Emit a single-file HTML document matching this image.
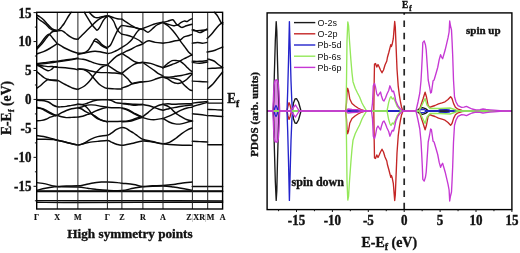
<!DOCTYPE html><html><head><meta charset="utf-8"><style>html,body{margin:0;padding:0;background:#fff;}svg{display:block;}.b{stroke:#111;stroke-width:0.35px;paint-order:stroke;}</style></head><body>
<svg width="520" height="253" viewBox="0 0 520 253">
<rect width="520" height="253" fill="#fff"/>
<g fill="none" stroke="#0a0a0a" stroke-width="1.45" stroke-linejoin="round" stroke-linecap="round">
<path d="M36.70,15.20 C37.27,15.50 38.98,16.23 40.12,17.00 C41.26,17.77 42.20,18.50 43.53,19.80 C44.87,21.10 46.66,23.30 48.12,24.80 C49.59,26.30 50.79,27.85 52.32,28.80 C53.85,29.75 56.47,30.22 57.30,30.50"/>
<path d="M36.70,17.20 C37.11,17.58 38.25,18.78 39.14,19.50 C40.04,20.22 40.93,20.67 42.07,21.50 C43.21,22.33 44.67,23.33 45.97,24.50 C47.28,25.67 48.58,27.50 49.88,28.50 C51.18,29.50 52.55,30.08 53.79,30.50 C55.02,30.92 56.71,30.92 57.30,31.00"/>
<path d="M57.30,30.50 C57.70,30.25 58.94,29.65 59.69,29.00 C60.43,28.35 61.03,27.52 61.78,26.60 C62.52,25.68 63.37,24.68 64.17,23.50 C64.96,22.32 65.76,20.83 66.56,19.50 C67.35,18.17 68.16,16.70 68.94,15.50 C69.72,14.30 70.85,12.83 71.23,12.30"/>
<path d="M57.30,31.00 C58.03,30.93 60.34,30.27 61.68,30.60 C63.02,30.93 63.97,31.98 65.36,33.00 C66.75,34.02 68.58,35.73 70.04,36.70 C71.50,37.67 72.81,38.37 74.12,38.80 C75.43,39.23 77.27,39.22 77.90,39.30"/>
<path d="M36.70,47.70 C37.32,47.03 39.01,45.42 40.41,43.70 C41.81,41.98 43.68,38.98 45.10,37.40 C46.51,35.82 47.62,34.07 48.90,34.20 C50.19,34.33 51.41,36.62 52.81,38.20 C54.21,39.78 56.55,42.78 57.30,43.70"/>
<path d="M36.70,49.20 C37.58,48.28 40.33,45.62 41.97,43.70 C43.62,41.78 45.32,39.23 46.56,37.70 C47.80,36.17 48.35,35.53 49.39,34.50 C50.43,33.47 51.49,32.08 52.81,31.50 C54.13,30.92 56.55,31.08 57.30,31.00"/>
<path d="M36.70,54.00 C37.84,53.60 41.37,52.52 43.53,51.60 C45.70,50.68 47.39,49.82 49.68,48.50 C51.98,47.18 56.03,44.50 57.30,43.70"/>
<path d="M57.30,43.70 C58.36,44.33 61.55,46.37 63.67,47.50 C65.79,48.63 67.67,49.53 70.04,50.50 C72.41,51.47 76.59,52.83 77.90,53.30"/>
<path d="M84.41,12.30 C84.95,13.23 86.46,15.92 87.67,17.90 C88.87,19.88 90.29,22.35 91.63,24.20 C92.97,26.05 94.77,28.00 95.70,29.00 C96.63,30.00 96.57,30.47 97.23,30.20 C97.89,29.93 98.72,28.92 99.67,27.40 C100.62,25.88 101.99,22.68 102.92,21.10 C103.86,19.52 104.50,18.65 105.26,17.90 C106.03,17.15 107.12,16.82 107.49,16.60"/>
<path d="M89.19,12.30 C89.60,12.73 90.68,14.05 91.63,14.90 C92.58,15.75 93.75,16.95 94.89,17.40 C96.02,17.85 97.26,17.73 98.45,17.60 C99.64,17.47 100.50,16.90 102.01,16.60 C103.52,16.30 106.58,15.93 107.49,15.80"/>
<path d="M77.90,39.20 C78.58,38.55 80.49,36.73 81.97,35.30 C83.44,33.87 85.14,32.18 86.75,30.60 C88.36,29.02 90.01,27.38 91.63,25.80 C93.26,24.22 94.90,22.42 96.52,21.10 C98.13,19.78 99.84,18.70 101.30,17.90 C102.75,17.10 104.23,16.62 105.26,16.30 C106.30,15.98 107.12,16.05 107.49,16.00"/>
<path d="M77.90,53.30 C78.87,53.25 81.95,53.55 83.70,53.00 C85.44,52.45 86.95,51.50 88.38,50.00 C89.80,48.50 91.09,45.80 92.24,44.00 C93.40,42.20 94.26,39.75 95.29,39.20 C96.33,38.65 97.33,39.80 98.45,40.70 C99.57,41.60 100.84,43.58 102.01,44.60 C103.18,45.62 104.55,46.30 105.47,46.80 C106.38,47.30 107.16,47.47 107.49,47.60"/>
<path d="M93.87,41.00 C94.38,41.17 95.82,41.37 96.92,42.00 C98.02,42.63 99.30,43.97 100.48,44.80 C101.67,45.63 102.87,46.38 104.04,47.00 C105.21,47.62 106.92,48.25 107.49,48.50"/>
<path d="M107.49,15.80 C107.98,16.03 109.39,16.25 110.43,17.20 C111.48,18.15 112.77,19.77 113.75,21.50 C114.73,23.23 115.47,25.92 116.31,27.60 C117.15,29.28 117.84,30.50 118.77,31.60 C119.70,32.70 121.38,33.77 121.90,34.20"/>
<path d="M107.49,15.80 C108.32,16.03 110.81,16.72 112.42,17.20 C114.03,17.68 115.58,18.37 117.16,18.70 C118.74,19.03 121.11,19.12 121.90,19.20"/>
<path d="M107.49,47.60 C108.00,47.17 109.47,46.58 110.53,45.00 C111.59,43.42 112.74,40.42 113.84,38.10 C114.95,35.78 116.15,32.95 117.16,31.10 C118.17,29.25 119.12,27.93 119.91,27.00 C120.70,26.07 121.57,25.75 121.90,25.50"/>
<path d="M77.90,54.50 C79.21,54.22 82.90,53.35 85.73,52.80 C88.56,52.25 92.18,51.30 94.89,51.20 C97.60,51.10 99.67,51.83 102.01,52.20 C104.35,52.57 106.66,53.60 108.92,53.40 C111.17,53.20 113.39,52.02 115.55,51.00 C117.71,49.98 119.95,48.47 121.90,47.30 C123.85,46.13 125.55,45.35 127.25,44.00 C128.95,42.65 130.48,41.18 132.09,39.20 C133.70,37.22 135.57,33.77 136.93,32.10 C138.28,30.43 139.26,29.72 140.22,29.20 C141.18,28.68 142.28,29.03 142.69,29.00"/>
<path d="M121.90,19.20 C122.78,19.77 125.45,21.50 127.15,22.60 C128.85,23.70 130.46,24.87 132.09,25.80 C133.72,26.73 135.16,27.57 136.93,28.20 C138.70,28.83 141.73,29.37 142.69,29.60"/>
<path d="M121.90,25.50 C122.78,25.62 125.19,25.88 127.15,26.20 C129.11,26.52 131.46,26.93 133.64,27.40 C135.81,27.87 138.71,28.68 140.22,29.00 C141.73,29.32 142.28,29.25 142.69,29.30"/>
<path d="M121.90,34.20 C122.78,34.38 125.45,34.85 127.15,35.30 C128.85,35.75 130.19,36.12 132.09,36.90 C134.00,37.68 136.81,38.95 138.58,40.00 C140.34,41.05 142.01,42.67 142.69,43.20"/>
<path d="M107.49,65.10 C108.05,64.48 109.28,62.88 110.81,61.40 C112.34,59.92 114.84,57.52 116.69,56.20 C118.54,54.88 120.28,54.33 121.90,53.50 C123.52,52.67 124.82,51.95 126.43,51.20 C128.04,50.45 129.86,49.83 131.58,49.00 C133.29,48.17 134.87,47.03 136.72,46.20 C138.58,45.37 141.70,44.37 142.69,44.00"/>
<path d="M142.69,29.00 C143.26,29.38 145.15,30.78 146.10,31.30 C147.06,31.82 147.42,32.48 148.43,32.10 C149.45,31.72 150.81,30.18 152.22,29.00 C153.63,27.82 155.09,26.12 156.88,25.00 C158.68,23.88 161.98,22.75 163.00,22.30"/>
<path d="M142.69,28.50 C143.52,28.18 145.81,27.32 147.66,26.60 C149.50,25.88 151.72,24.87 153.78,24.20 C155.83,23.53 158.45,22.92 159.99,22.60 C161.53,22.28 162.50,22.35 163.00,22.30"/>
<path d="M142.69,44.00 C143.26,43.60 145.02,42.13 146.10,41.60 C147.19,41.07 147.67,40.67 149.21,40.80 C150.75,40.93 153.03,42.00 155.33,42.40 C157.63,42.80 161.72,43.07 163.00,43.20"/>
<path d="M163.00,22.30 C163.82,22.10 166.28,21.52 167.90,21.10 C169.52,20.68 171.49,19.55 172.70,19.80 C173.91,20.05 174.33,21.73 175.15,22.60 C175.96,23.47 176.66,25.00 177.60,25.00 C178.53,25.00 179.69,23.25 180.76,22.60 C181.83,21.95 182.96,21.28 184.03,21.10 C185.10,20.92 186.26,21.72 187.19,21.50 C188.13,21.28 188.79,20.27 189.64,19.80 C190.49,19.33 191.86,18.88 192.30,18.70"/>
<path d="M163.00,22.50 C163.82,22.78 166.15,23.65 167.90,24.20 C169.65,24.75 171.90,25.67 173.51,25.80 C175.13,25.93 176.25,24.73 177.60,25.00 C178.94,25.27 180.12,27.27 181.58,27.40 C183.04,27.53 184.59,26.33 186.38,25.80 C188.16,25.27 191.31,24.47 192.30,24.20"/>
<path d="M163.00,22.60 C163.82,23.13 166.28,24.47 167.90,25.80 C169.52,27.13 171.08,28.75 172.70,30.60 C174.31,32.45 176.25,35.07 177.60,36.90 C178.94,38.73 179.74,40.17 180.76,41.60 C181.78,43.03 182.74,44.18 183.72,45.50 C184.71,46.82 185.80,48.32 186.68,49.50 C187.57,50.68 188.10,51.68 189.03,52.60 C189.97,53.52 191.75,54.60 192.30,55.00"/>
<path d="M163.00,43.20 C163.99,43.07 166.86,42.80 168.92,42.40 C170.98,42.00 173.46,41.20 175.35,40.80 C177.24,40.40 178.81,40.65 180.25,40.00 C181.70,39.35 182.45,37.68 184.03,36.90 C185.61,36.12 188.37,35.70 189.75,35.30 C191.12,34.90 191.87,34.63 192.30,34.50"/>
<path d="M192.30,29.60 C192.89,29.80 194.59,30.30 195.83,30.80 C197.08,31.30 198.53,32.52 199.76,32.60 C200.98,32.68 201.96,31.90 203.19,31.30 C204.41,30.70 206.46,29.38 207.11,29.00"/>
<path d="M192.30,30.60 C193.15,30.60 194.93,30.73 197.40,30.60 C199.87,30.47 205.49,29.93 207.11,29.80"/>
<path d="M192.30,43.20 C193.15,43.07 195.77,42.40 197.40,42.40 C199.04,42.40 200.49,43.20 202.11,43.20 C203.73,43.20 206.28,42.53 207.11,42.40"/>
<path d="M207.11,38.50 C207.91,37.70 210.25,35.55 211.88,33.70 C213.52,31.85 215.38,29.12 216.92,27.40 C218.46,25.68 220.12,24.20 221.10,23.40 C222.08,22.60 222.52,22.73 222.80,22.60"/>
<path d="M214.35,12.30 C214.92,12.97 216.65,14.58 217.78,16.30 C218.90,18.02 220.26,21.32 221.10,22.60 C221.94,23.88 222.52,23.77 222.80,24.00"/>
<path d="M207.11,52.00 C208.44,51.70 212.48,51.03 215.10,50.20 C217.71,49.37 221.52,47.53 222.80,47.00"/>
<path d="M36.70,63.70 C37.92,63.55 41.83,63.10 44.02,62.80 C46.22,62.50 47.65,62.18 49.88,61.90 C52.11,61.62 54.84,61.43 57.40,61.10 C59.96,60.77 62.64,60.27 65.26,59.90 C67.88,59.53 71.02,59.23 73.12,58.90 C75.23,58.57 77.10,58.07 77.90,57.90"/>
<path d="M36.70,64.60 C38.08,64.43 41.55,64.07 45.00,63.60 C48.45,63.13 53.29,62.40 57.40,61.80 C61.51,61.20 66.22,60.53 69.64,60.00 C73.06,59.47 76.52,58.83 77.90,58.60"/>
<path d="M36.70,64.80 C37.27,65.08 38.75,65.75 40.12,66.50 C41.48,67.25 43.57,68.58 44.90,69.30 C46.24,70.02 47.05,70.77 48.12,70.80 C49.20,70.83 50.32,70.17 51.34,69.50 C52.37,68.83 53.26,67.25 54.27,66.80 C55.28,66.35 56.88,66.80 57.40,66.80"/>
<path d="M36.70,65.40 C37.59,65.47 40.23,65.60 42.07,65.80 C43.91,66.00 45.81,66.47 47.73,66.60 C49.65,66.73 51.98,66.47 53.59,66.60 C55.20,66.73 55.45,67.20 57.40,67.40 C59.34,67.60 62.64,67.57 65.26,67.80 C67.88,68.03 71.02,68.47 73.12,68.80 C75.23,69.13 77.10,69.63 77.90,69.80"/>
<path d="M36.70,71.60 C37.32,72.12 39.09,73.63 40.41,74.70 C41.73,75.77 43.32,77.20 44.61,78.00 C45.89,78.80 46.92,79.17 48.12,79.50 C49.33,79.83 50.29,79.87 51.83,80.00 C53.38,80.13 55.16,79.55 57.40,80.30 C59.64,81.05 62.64,83.17 65.26,84.50 C67.88,85.83 71.02,87.48 73.12,88.30 C75.23,89.12 77.10,89.22 77.90,89.40"/>
<path d="M36.70,88.20 C37.32,87.80 39.27,86.72 40.41,85.80 C41.55,84.88 42.51,83.62 43.53,82.70 C44.56,81.78 45.80,80.83 46.56,80.30 C47.33,79.77 47.24,79.48 48.12,79.50 C49.00,79.52 50.29,80.18 51.83,80.40 C53.38,80.62 56.47,80.73 57.40,80.80"/>
<path d="M77.90,58.80 C78.76,58.88 81.34,58.98 83.09,59.30 C84.83,59.62 86.61,60.12 88.38,60.70 C90.14,61.28 91.73,62.17 93.67,62.80 C95.60,63.43 97.67,64.12 99.97,64.50 C102.28,64.88 106.24,65.00 107.49,65.10"/>
<path d="M77.90,68.90 C78.87,68.97 81.88,69.03 83.70,69.30 C85.51,69.57 86.92,70.05 88.78,70.50 C90.65,70.95 92.85,71.65 94.89,72.00 C96.92,72.35 98.89,72.50 100.99,72.60 C103.09,72.70 106.41,72.60 107.49,72.60"/>
<path d="M77.90,68.90 C78.87,69.02 81.88,69.00 83.70,69.60 C85.51,70.20 86.99,70.93 88.78,72.50 C90.58,74.07 92.68,77.00 94.48,79.00 C96.28,81.00 97.87,83.07 99.57,84.50 C101.26,85.93 103.33,86.95 104.65,87.60 C105.97,88.25 107.02,88.27 107.49,88.40"/>
<path d="M77.90,89.40 C78.87,88.92 82.05,87.57 83.70,86.50 C85.34,85.43 86.58,84.17 87.77,83.00 C88.95,81.83 89.70,80.92 90.82,79.50 C91.94,78.08 93.02,76.25 94.48,74.50 C95.94,72.75 98.14,70.33 99.57,69.00 C100.99,67.67 101.70,67.15 103.03,66.50 C104.35,65.85 106.75,65.33 107.49,65.10"/>
<path d="M107.49,65.10 C108.38,65.68 110.97,67.42 112.80,68.60 C114.63,69.78 116.97,71.38 118.49,72.20 C120.00,73.02 121.33,73.28 121.90,73.50"/>
<path d="M107.49,72.60 C108.68,72.67 112.20,72.77 114.60,73.00 C117.00,73.23 120.68,73.83 121.90,74.00"/>
<path d="M107.49,88.40 C108.68,88.48 112.20,88.82 114.60,88.90 C117.00,88.98 120.68,88.90 121.90,88.90"/>
<path d="M121.90,53.30 C122.88,53.95 125.74,55.85 127.77,57.20 C129.79,58.55 132.28,60.47 134.05,61.40 C135.81,62.33 136.93,62.63 138.37,62.80 C139.81,62.97 141.97,62.47 142.69,62.40"/>
<path d="M121.90,73.20 C122.88,72.43 125.74,70.07 127.77,68.60 C129.79,67.13 132.28,65.37 134.05,64.40 C135.81,63.43 136.93,63.13 138.37,62.80 C139.81,62.47 141.97,62.47 142.69,62.40"/>
<path d="M121.90,73.20 C122.88,74.13 126.09,77.08 127.77,78.80 C129.45,80.52 130.58,82.80 131.99,83.50 C133.40,84.20 134.80,83.25 136.21,83.00 C137.62,82.75 139.35,82.18 140.43,82.00 C141.51,81.82 142.32,81.92 142.69,81.90"/>
<path d="M121.90,88.00 C122.88,87.67 125.74,86.83 127.77,86.00 C129.79,85.17 131.56,83.68 134.05,83.00 C136.53,82.32 141.25,82.08 142.69,81.90"/>
<path d="M142.69,62.40 C144.01,62.57 148.27,62.88 150.57,63.40 C152.87,63.92 154.44,64.82 156.49,65.50 C158.55,66.18 161.83,67.17 162.90,67.50"/>
<path d="M142.69,81.90 C144.01,81.73 148.27,81.42 150.57,80.90 C152.87,80.38 154.44,79.48 156.49,78.80 C158.55,78.12 161.83,77.13 162.90,76.80"/>
<path d="M142.69,62.40 C143.67,63.08 146.56,65.13 148.53,66.50 C150.51,67.87 152.90,69.40 154.55,70.60 C156.20,71.80 157.04,72.85 158.44,73.70 C159.83,74.55 162.16,75.37 162.90,75.70"/>
<path d="M162.90,67.70 C163.65,67.47 165.86,66.83 167.39,66.30 C168.92,65.77 170.42,65.15 172.09,64.50 C173.75,63.85 175.74,63.18 177.39,62.40 C179.04,61.62 180.59,60.53 181.99,59.80 C183.38,59.07 184.54,58.60 185.76,58.00 C186.99,57.40 188.25,56.70 189.34,56.20 C190.43,55.70 191.80,55.20 192.30,55.00"/>
<path d="M162.90,67.70 C163.65,67.03 165.86,64.88 167.39,63.70 C168.92,62.52 170.49,61.12 172.09,60.60 C173.68,60.08 175.62,60.48 176.99,60.60 C178.35,60.72 179.18,60.78 180.25,61.30 C181.32,61.82 182.34,62.77 183.42,63.70 C184.49,64.63 185.61,65.85 186.68,66.90 C187.76,67.95 188.91,69.22 189.85,70.00 C190.78,70.78 191.89,71.33 192.30,71.60"/>
<path d="M162.90,77.10 C163.99,77.10 167.36,77.23 169.43,77.10 C171.51,76.97 173.34,76.57 175.35,76.30 C177.36,76.03 179.40,75.88 181.48,75.50 C183.55,75.12 186.00,74.38 187.81,74.00 C189.61,73.62 191.55,73.33 192.30,73.20"/>
<path d="M162.90,77.10 C163.63,77.37 165.76,77.92 167.29,78.70 C168.82,79.48 170.47,81.02 172.09,81.80 C173.70,82.58 175.39,83.27 176.99,83.40 C178.58,83.53 180.06,83.25 181.68,82.60 C183.30,81.95 185.32,80.55 186.68,79.50 C188.04,78.45 188.91,77.22 189.85,76.30 C190.78,75.38 191.89,74.38 192.30,74.00"/>
<path d="M162.90,77.10 C164.16,77.23 168.38,77.63 170.45,77.90 C172.53,78.17 173.72,78.30 175.35,78.70 C176.99,79.10 178.91,79.38 180.25,80.30 C181.60,81.22 182.33,83.02 183.42,84.20 C184.51,85.38 185.71,86.47 186.79,87.40 C187.86,88.33 188.93,89.27 189.85,89.80 C190.77,90.33 191.89,90.47 192.30,90.60"/>
<path d="M192.30,61.30 C193.54,61.30 197.21,61.43 199.76,61.30 C202.31,61.17 206.29,60.63 207.60,60.50"/>
<path d="M192.30,81.10 C193.54,81.17 197.21,81.37 199.76,81.50 C202.31,81.63 206.29,81.83 207.60,81.90"/>
<path d="M192.30,62.40 C193.54,62.53 197.21,63.27 199.76,63.20 C202.31,63.13 206.29,62.20 207.60,62.00"/>
<path d="M207.60,58.90 C208.67,59.25 212.24,60.07 214.02,61.00 C215.81,61.93 216.88,63.42 218.31,64.50 C219.74,65.58 221.89,67.00 222.60,67.50"/>
<path d="M207.60,68.60 C208.85,68.53 212.60,68.33 215.10,68.20 C217.60,68.07 221.35,67.87 222.60,67.80"/>
<path d="M207.60,88.70 C208.49,87.92 211.26,85.78 212.95,84.00 C214.65,82.22 216.17,80.00 217.78,78.00 C219.38,76.00 221.80,73.00 222.60,72.00"/>
<path d="M36.70,100.20 C37.43,100.25 39.55,100.33 41.09,100.50 C42.64,100.67 44.59,100.87 45.97,101.20 C47.36,101.53 48.25,101.87 49.39,102.50 C50.53,103.13 51.49,104.28 52.81,105.00 C54.13,105.72 55.82,106.50 57.30,106.80 C58.78,107.10 60.17,106.87 61.68,106.80 C63.19,106.73 64.70,106.63 66.36,106.40 C68.01,106.17 69.72,105.75 71.63,105.40 C73.54,105.05 76.77,104.48 77.80,104.30"/>
<path d="M77.80,104.30 C78.61,104.33 81.02,104.72 82.68,104.50 C84.34,104.28 86.07,103.58 87.77,103.00 C89.46,102.42 91.24,101.48 92.85,101.00 C94.46,100.52 95.91,100.30 97.43,100.10 C98.96,99.90 100.33,99.85 102.01,99.80 C103.69,99.75 106.58,99.80 107.49,99.80"/>
<path d="M77.80,104.30 C78.44,104.35 80.43,104.30 81.66,104.60 C82.90,104.90 84.04,105.27 85.22,106.10 C86.41,106.93 87.78,108.42 88.78,109.60 C89.78,110.78 90.21,112.00 91.23,113.20 C92.24,114.40 93.48,115.72 94.89,116.80 C96.30,117.88 98.06,118.98 99.67,119.70 C101.28,120.42 103.25,120.80 104.55,121.10 C105.86,121.40 107.00,121.43 107.49,121.50"/>
<path d="M77.80,107.90 C78.44,107.75 80.43,107.40 81.66,107.00 C82.90,106.60 83.83,105.85 85.22,105.50 C86.61,105.15 88.31,104.97 90.01,104.90 C91.70,104.83 93.74,104.90 95.40,105.10 C97.06,105.30 97.96,105.73 99.97,106.10 C101.99,106.47 106.24,107.10 107.49,107.30"/>
<path d="M77.80,107.90 C78.44,108.08 80.43,108.42 81.66,109.00 C82.90,109.58 84.04,110.70 85.22,111.40 C86.41,112.10 87.78,112.80 88.78,113.20 C89.78,113.60 90.04,113.22 91.23,113.80 C92.41,114.38 94.28,115.68 95.91,116.70 C97.53,117.72 99.06,119.05 100.99,119.90 C102.92,120.75 106.41,121.48 107.49,121.80"/>
<path d="M77.80,117.10 C78.61,116.95 81.04,116.65 82.68,116.20 C84.33,115.75 86.24,114.90 87.67,114.40 C89.09,113.90 89.85,113.80 91.23,113.20 C92.60,112.60 94.28,111.50 95.91,110.80 C97.53,110.10 99.06,109.58 100.99,109.00 C102.92,108.42 106.41,107.58 107.49,107.30"/>
<path d="M36.70,107.90 C37.55,108.00 40.23,108.12 41.78,108.50 C43.32,108.88 44.54,109.52 45.97,110.20 C47.41,110.88 48.99,111.85 50.37,112.60 C51.75,113.35 53.12,114.23 54.27,114.70 C55.43,115.17 56.07,115.05 57.30,115.40 C58.53,115.75 60.17,116.43 61.68,116.80 C63.19,117.17 64.70,117.50 66.36,117.60 C68.01,117.70 69.72,117.48 71.63,117.40 C73.54,117.32 76.77,117.15 77.80,117.10"/>
<path d="M36.70,107.30 C37.55,107.55 40.23,108.15 41.78,108.80 C43.32,109.45 44.54,110.40 45.97,111.20 C47.41,112.00 48.99,112.93 50.37,113.60 C51.75,114.27 53.12,114.87 54.27,115.20 C55.43,115.53 56.80,115.53 57.30,115.60"/>
<path d="M36.70,120.90 C37.55,120.82 40.23,120.68 41.78,120.40 C43.32,120.12 44.54,119.73 45.97,119.20 C47.41,118.67 48.99,117.75 50.37,117.20 C51.75,116.65 53.12,116.23 54.27,115.90 C55.43,115.57 56.07,115.73 57.30,115.20 C58.53,114.67 60.17,113.48 61.68,112.70 C63.19,111.92 64.70,111.15 66.36,110.50 C68.01,109.85 69.72,109.23 71.63,108.80 C73.54,108.37 76.77,108.05 77.80,107.90"/>
<path d="M107.49,99.80 C108.06,99.87 109.55,99.73 110.91,100.20 C112.26,100.67 113.81,102.07 115.65,102.60 C117.48,103.13 119.93,103.22 121.90,103.40 C123.87,103.58 125.33,103.55 127.46,103.70 C129.59,103.85 132.13,104.17 134.66,104.30 C137.20,104.43 141.36,104.47 142.69,104.50"/>
<path d="M121.90,103.60 C122.83,103.72 125.50,104.03 127.46,104.30 C129.41,104.57 131.75,105.12 133.64,105.20 C135.52,105.28 137.27,104.92 138.78,104.80 C140.29,104.68 142.04,104.55 142.69,104.50"/>
<path d="M107.49,107.30 C108.54,107.38 111.35,107.70 113.75,107.80 C116.15,107.90 119.62,107.62 121.90,107.90 C124.18,108.18 125.50,108.68 127.46,109.50 C129.41,110.32 131.75,111.80 133.64,112.80 C135.52,113.80 137.27,114.83 138.78,115.50 C140.29,116.17 142.04,116.58 142.69,116.80"/>
<path d="M121.90,108.30 C122.83,108.62 125.50,109.33 127.46,110.20 C129.41,111.07 131.75,112.53 133.64,113.50 C135.52,114.47 137.27,115.38 138.78,116.00 C140.29,116.62 142.04,117.00 142.69,117.20"/>
<path d="M107.49,121.50 C108.54,121.50 111.35,121.53 113.75,121.50 C116.15,121.47 119.62,121.38 121.90,121.30 C124.18,121.22 125.57,121.30 127.46,121.00 C129.35,120.70 131.44,120.07 133.22,119.50 C135.01,118.93 136.59,118.05 138.16,117.60 C139.74,117.15 141.94,116.93 142.69,116.80"/>
<path d="M121.90,121.80 C123.17,121.73 127.22,121.78 129.52,121.40 C131.82,121.02 133.50,120.17 135.69,119.50 C137.89,118.83 141.53,117.75 142.69,117.40"/>
<path d="M142.69,104.50 C143.59,104.67 146.20,105.03 148.05,105.50 C149.89,105.97 152.04,106.72 153.78,107.30 C155.51,107.88 156.90,108.52 158.44,109.00 C159.97,109.48 162.24,110.00 163.00,110.20"/>
<path d="M142.69,116.80 C143.59,116.10 146.20,114.08 148.05,112.60 C149.89,111.12 152.04,109.08 153.78,107.90 C155.51,106.72 156.90,106.10 158.44,105.50 C159.97,104.90 162.24,104.50 163.00,104.30"/>
<path d="M142.69,117.50 C143.59,117.77 146.20,118.73 148.05,119.10 C149.89,119.47 152.04,119.70 153.78,119.70 C155.51,119.70 156.90,119.30 158.44,119.10 C159.97,118.90 162.24,118.60 163.00,118.50"/>
<path d="M163.00,104.30 C163.82,104.20 166.28,103.70 167.90,103.70 C169.52,103.70 170.91,104.25 172.70,104.30 C174.48,104.35 176.20,104.10 178.62,104.00 C181.03,103.90 184.88,103.75 187.19,103.70 C189.51,103.65 191.61,103.70 192.50,103.70"/>
<path d="M163.00,110.20 C163.82,110.00 166.28,109.38 167.90,109.00 C169.52,108.62 170.91,108.28 172.70,107.90 C174.48,107.52 176.20,107.10 178.62,106.70 C181.03,106.30 184.88,105.80 187.19,105.50 C189.51,105.20 191.61,105.00 192.50,104.90"/>
<path d="M163.00,104.50 C163.73,104.75 166.15,105.42 167.39,106.00 C168.63,106.58 169.26,107.00 170.45,108.00 C171.64,109.00 173.34,110.92 174.54,112.00 C175.73,113.08 176.29,113.60 177.60,114.50 C178.91,115.40 180.80,116.52 182.40,117.40 C184.00,118.28 185.51,119.20 187.19,119.80 C188.88,120.40 191.61,120.80 192.50,121.00"/>
<path d="M163.00,118.50 C164.00,118.12 167.00,117.08 169.02,116.20 C171.05,115.32 173.12,114.20 175.15,113.20 C177.17,112.20 179.16,111.07 181.17,110.20 C183.18,109.33 185.31,108.48 187.19,108.00 C189.08,107.52 191.61,107.42 192.50,107.30"/>
<path d="M163.00,118.50 C164.00,119.08 167.00,121.10 169.02,122.00 C171.05,122.90 173.12,123.58 175.15,123.90 C177.17,124.22 178.75,124.30 181.17,123.90 C183.59,123.50 187.76,121.98 189.64,121.50 C191.53,121.02 192.02,121.08 192.50,121.00"/>
<path d="M192.50,106.50 C193.71,106.17 197.22,105.18 199.76,104.50 C202.29,103.82 206.38,102.75 207.70,102.40"/>
<path d="M192.50,103.10 C193.71,102.97 197.22,102.58 199.76,102.30 C202.29,102.02 206.38,101.55 207.70,101.40"/>
<path d="M192.50,113.80 C193.71,113.92 197.22,114.20 199.76,114.50 C202.29,114.80 206.38,115.42 207.70,115.60"/>
<path d="M207.70,103.10 C208.93,103.10 212.61,103.10 215.10,103.10 C217.58,103.10 221.35,103.10 222.60,103.10"/>
<path d="M207.70,109.40 C208.93,109.43 212.61,109.47 215.10,109.60 C217.58,109.73 221.35,110.10 222.60,110.20"/>
<path d="M207.70,115.60 C208.93,115.67 212.61,115.85 215.10,116.00 C217.58,116.15 221.35,116.42 222.60,116.50"/>
<path d="M36.70,135.50 C37.86,135.67 41.22,136.02 43.63,136.50 C46.04,136.98 48.89,137.77 51.15,138.40 C53.41,139.03 54.67,139.67 57.20,140.30 C59.74,140.93 62.92,141.43 66.36,142.20 C69.79,142.97 74.91,144.68 77.80,144.90 C80.69,145.12 81.58,144.42 83.70,143.50 C85.82,142.58 88.19,140.55 90.51,139.40 C92.84,138.25 94.80,137.30 97.63,136.60 C100.46,135.90 105.20,135.77 107.49,135.20 C109.79,134.63 109.86,134.17 111.38,133.20 C112.90,132.23 114.84,130.35 116.59,129.40 C118.35,128.45 120.31,127.68 121.90,127.50 C123.49,127.32 124.85,127.77 126.12,128.30 C127.39,128.83 128.27,129.92 129.52,130.70 C130.77,131.48 132.26,132.12 133.64,133.00 C135.01,133.88 136.24,134.95 137.75,136.00 C139.26,137.05 140.25,138.38 142.69,139.30 C145.14,140.22 149.08,140.75 152.42,141.50 C155.75,142.25 159.87,143.67 162.71,143.80 C165.54,143.93 167.29,143.18 169.43,142.30 C171.57,141.42 173.57,139.92 175.56,138.50 C177.55,137.08 179.38,135.25 181.38,133.80 C183.37,132.35 185.68,130.77 187.50,129.80 C189.32,128.83 191.50,128.30 192.30,128.00"/>
<path d="M36.70,139.30 C38.16,139.30 42.77,139.27 45.49,139.30 C48.20,139.33 51.05,139.38 53.00,139.50 C54.96,139.62 54.98,139.50 57.20,140.00 C59.43,140.50 62.92,141.68 66.36,142.50 C69.79,143.32 74.91,144.73 77.80,144.90 C80.69,145.07 81.58,143.97 83.70,143.50 C85.82,143.03 88.19,142.45 90.51,142.10 C92.84,141.75 94.80,141.67 97.63,141.40 C100.46,141.13 105.20,140.38 107.49,140.50 C109.79,140.62 109.86,141.48 111.38,142.10 C112.90,142.72 114.84,143.68 116.59,144.20 C118.35,144.72 119.40,145.32 121.90,145.20 C124.40,145.08 128.11,144.20 131.58,143.50 C135.04,142.80 139.22,141.25 142.69,141.00 C146.17,140.75 149.08,141.53 152.42,142.00 C155.75,142.47 158.51,143.30 162.71,143.80 C166.91,144.30 172.67,144.73 177.60,145.00 C182.53,145.27 189.85,145.33 192.30,145.40"/>
<path d="M192.30,141.20 C193.54,141.27 197.21,141.47 199.76,141.60 C202.31,141.73 206.29,141.93 207.60,142.00"/>
<path d="M207.60,144.80 L222.60,144.80"/>
<path d="M36.70,182.60 C38.16,182.82 42.77,183.35 45.49,183.90 C48.20,184.45 51.05,185.48 53.00,185.90 C54.96,186.32 54.98,186.38 57.20,186.40 C59.43,186.42 62.92,186.10 66.36,186.00 C69.79,185.90 74.91,185.97 77.80,185.80 C80.69,185.63 81.41,185.43 83.70,185.00 C85.99,184.57 88.60,183.70 91.53,183.20 C94.46,182.70 98.64,182.20 101.30,182.00 C103.96,181.80 104.79,181.90 107.49,182.00 C110.20,182.10 115.14,182.40 117.54,182.60 C119.94,182.80 119.22,182.88 121.90,183.20 C124.58,183.52 130.17,183.97 133.64,184.50 C137.10,185.03 139.56,186.18 142.69,186.40 C145.82,186.62 149.08,185.95 152.42,185.80 C155.75,185.65 159.19,185.72 162.71,185.50 C166.23,185.28 170.40,184.88 173.51,184.50 C176.63,184.12 178.24,183.62 181.38,183.20 C184.51,182.78 190.48,182.20 192.30,182.00"/>
<path d="M36.70,190.30 C38.16,189.97 42.77,188.85 45.49,188.30 C48.20,187.75 51.05,187.25 53.00,187.00 C54.96,186.75 53.07,186.80 57.20,186.80 C61.34,186.80 72.74,186.75 77.80,187.00 C82.86,187.25 84.63,187.92 87.56,188.30 C90.50,188.68 92.07,188.97 95.40,189.30 C98.72,189.63 103.08,190.10 107.49,190.30 C111.91,190.50 117.61,190.83 121.90,190.50 C126.19,190.17 129.76,188.92 133.22,188.30 C136.69,187.68 137.78,187.18 142.69,186.80 C147.61,186.42 157.57,185.97 162.71,186.00 C167.85,186.03 169.76,186.50 173.51,187.00 C177.27,187.50 182.12,188.45 185.25,189.00 C188.38,189.55 191.12,190.08 192.30,190.30"/>
<path d="M192.30,186.40 L222.60,186.40"/>
<path d="M36.70,190.90 L222.60,190.90"/>
<path d="M36.70,191.40 L222.60,191.40"/>
<path d="M36.70,200.60 C43.85,200.63 62.44,200.80 79.63,200.80 C96.81,200.80 115.98,200.57 139.81,200.60 C163.64,200.63 208.80,200.93 222.60,201.00"/>
<path d="M36.70,202.30 C43.85,202.35 62.44,202.62 79.63,202.60 C96.81,202.58 115.98,202.27 139.81,202.20 C163.64,202.13 208.80,202.20 222.60,202.20"/>
</g>
<g stroke="#222" stroke-width="1">
<line x1="57.3" y1="12.3" x2="57.3" y2="209.0"/>
<line x1="77.9" y1="12.3" x2="77.9" y2="209.0"/>
<line x1="107.4" y1="12.3" x2="107.4" y2="209.0"/>
<line x1="121.9" y1="12.3" x2="121.9" y2="209.0"/>
<line x1="142.9" y1="12.3" x2="142.9" y2="209.0"/>
<line x1="163.0" y1="12.3" x2="163.0" y2="209.0"/>
<line x1="192.4" y1="12.3" x2="192.4" y2="209.0"/>
<line x1="207.7" y1="12.3" x2="207.7" y2="209.0"/>
</g>
<line x1="36.7" y1="99.45" x2="222.6" y2="99.45" stroke="#111" stroke-width="1"/>
<rect x="36.7" y="12.3" width="185.89999999999998" height="196.7" fill="none" stroke="#000" stroke-width="1.4"/>
<line x1="33.5" y1="186.30" x2="36.7" y2="186.30" stroke="#111" stroke-width="1"/>
<line x1="33.5" y1="157.35" x2="36.7" y2="157.35" stroke="#111" stroke-width="1"/>
<line x1="33.5" y1="128.40" x2="36.7" y2="128.40" stroke="#111" stroke-width="1"/>
<line x1="33.5" y1="99.45" x2="36.7" y2="99.45" stroke="#111" stroke-width="1"/>
<line x1="33.5" y1="70.50" x2="36.7" y2="70.50" stroke="#111" stroke-width="1"/>
<line x1="33.5" y1="41.55" x2="36.7" y2="41.55" stroke="#111" stroke-width="1"/>
<line x1="33.5" y1="12.60" x2="36.7" y2="12.60" stroke="#111" stroke-width="1"/>
<line x1="34.900000000000006" y1="200.78" x2="36.7" y2="200.78" stroke="#111" stroke-width="1"/>
<line x1="34.900000000000006" y1="171.82" x2="36.7" y2="171.82" stroke="#111" stroke-width="1"/>
<line x1="34.900000000000006" y1="142.88" x2="36.7" y2="142.88" stroke="#111" stroke-width="1"/>
<line x1="34.900000000000006" y1="113.92" x2="36.7" y2="113.92" stroke="#111" stroke-width="1"/>
<line x1="34.900000000000006" y1="84.98" x2="36.7" y2="84.98" stroke="#111" stroke-width="1"/>
<line x1="34.900000000000006" y1="56.03" x2="36.7" y2="56.03" stroke="#111" stroke-width="1"/>
<line x1="34.900000000000006" y1="27.08" x2="36.7" y2="27.08" stroke="#111" stroke-width="1"/>
<g font-family="'Liberation Serif','Times New Roman',serif" font-weight="bold" class="b" font-size="13" text-anchor="end" fill="#111">
<text transform="translate(31.4,191.20) scale(1,1.1)">-15</text>
<text transform="translate(31.4,162.25) scale(1,1.1)">-10</text>
<text transform="translate(31.4,133.30) scale(1,1.1)">-5</text>
<text transform="translate(31.4,104.35) scale(1,1.1)">0</text>
<text transform="translate(31.4,75.40) scale(1,1.1)">5</text>
<text transform="translate(31.4,46.45) scale(1,1.1)">10</text>
<text transform="translate(31.4,17.50) scale(1,1.1)">15</text>
</g>
<g font-family="'Liberation Serif','Times New Roman',serif" font-weight="bold" font-size="8.1" text-anchor="middle" fill="#111" stroke="#111" stroke-width="0.15">
<text x="36.7" y="219.8">Γ</text>
<text x="57.3" y="219.8">X</text>
<text x="77.9" y="219.8">M</text>
<text x="107.4" y="219.8">Γ</text>
<text x="121.9" y="219.8">Z</text>
<text x="142.9" y="219.8">R</text>
<text x="163.0" y="219.8">A</text>
<text x="200.3" y="219.8">Z<tspan fill="#888" stroke="none" font-weight="normal">|</tspan>XR<tspan fill="#888" stroke="none" font-weight="normal">|</tspan>M</text>
<text x="222.6" y="219.8">A</text>
</g>
<text x="130" y="238.4" font-family="'Liberation Serif','Times New Roman',serif" font-weight="bold" class="b" font-size="13.2" text-anchor="middle" fill="#111">High symmetry points</text>
<text transform="translate(11.2,108) rotate(-90)" font-family="'Liberation Serif','Times New Roman',serif" font-weight="bold" class="b" font-size="13.6" text-anchor="middle" fill="#111">E-E<tspan font-size="9" dy="3">f</tspan><tspan dy="-3"> (eV)</tspan></text>
<text transform="translate(227.3,102.6) scale(1,1.12)" font-family="'Liberation Serif','Times New Roman',serif" font-weight="bold" class="b" font-size="13" fill="#111">E<tspan font-size="9.5" dy="3.6">f</tspan></text>
<line x1="404.20" y1="12.9" x2="404.20" y2="209.6" stroke="#262626" stroke-width="1.7" stroke-dasharray="6.5 5.65" stroke-dashoffset="4.55"/>
<path d="M272.90,111.00 L273.30,101.00 L273.70,91.00 L274.20,84.00 L275.10,80.40 L276.30,79.80 L277.50,80.40 L278.40,84.00 L278.90,91.00 L279.30,101.00 L279.70,111.00 L279.70,111.00 L279.30,121.00 L278.90,131.00 L278.40,138.00 L277.50,141.60 L276.30,142.20 L275.10,141.60 L274.20,138.00 L273.70,131.00 L273.30,121.00 L272.90,111.00 Z" fill="#c638d4" fill-opacity="0.6" stroke="none"/>
<path d="M267.40,111.00 L273.20,111.00 L273.70,101.00 L274.30,76.00 L275.30,41.00 L276.20,21.60 L276.80,31.00 L277.50,61.00 L278.20,86.00 L278.80,103.00 L279.30,111.00 L292.50,111.00 L293.50,103.00 L295.00,99.00 L296.50,98.70 L298.50,102.00 L300.20,108.00 L301.00,111.00 L416.80,111.00 L419.50,108.60 L422.50,107.60 L425.50,108.60 L428.70,111.00 L511.20,111.00" fill="none" stroke="#1a1a1a" stroke-width="1.35" stroke-linejoin="round"/>
<path d="M267.40,111.00 L273.20,111.00 L273.70,121.00 L274.30,146.00 L275.30,181.00 L276.20,200.40 L276.80,191.00 L277.50,161.00 L278.20,136.00 L278.80,119.00 L279.30,111.00 L292.50,111.00 L293.50,119.00 L295.00,123.00 L296.50,123.30 L298.50,120.00 L300.20,114.00 L301.00,111.00 L416.80,111.00 L419.50,113.40 L422.50,114.40 L425.50,113.40 L428.70,111.00 L511.20,111.00" fill="none" stroke="#1a1a1a" stroke-width="1.35" stroke-linejoin="round"/>
<path d="M267.40,111.00 L287.00,111.00 L288.00,106.00 L289.00,102.60 L290.00,105.00 L291.50,111.00 L345.50,111.00 L346.50,103.00 L347.00,92.60 L347.60,88.30 L348.50,91.00 L349.80,99.00 L352.00,103.50 L355.00,106.00 L358.00,108.00 L362.00,110.00 L365.00,111.00 L373.80,111.00 L374.20,81.00 L374.50,64.00 L375.50,63.50 L376.80,67.00 L378.00,64.50 L379.20,67.00 L380.50,70.00 L382.00,72.80 L383.50,70.00 L385.00,65.00 L386.80,61.00 L387.40,57.50 L388.80,52.50 L390.80,44.60 L391.40,46.60 L392.10,44.60 L393.30,38.70 L394.70,21.50 L395.30,27.00 L396.00,44.60 L397.00,69.00 L398.20,85.80 L399.40,95.30 L400.50,102.00 L401.50,107.00 L403.00,111.00 L419.00,111.00 L421.00,105.00 L423.00,99.00 L425.10,92.20 L426.50,97.00 L428.00,105.00 L429.60,107.40 L432.00,106.50 L435.00,105.50 L438.50,103.80 L442.00,102.80 L445.00,101.80 L448.00,99.50 L450.60,96.70 L452.00,98.50 L453.60,103.60 L455.40,107.20 L458.00,109.20 L462.00,110.50 L466.00,111.00 L511.20,111.00" fill="none" stroke="#c42626" stroke-width="1.35" stroke-linejoin="round"/>
<path d="M267.40,111.00 L287.00,111.00 L288.00,116.00 L289.00,119.40 L290.00,117.00 L291.50,111.00 L345.50,111.00 L346.50,119.00 L347.00,129.40 L347.60,133.70 L348.50,131.00 L349.80,123.00 L352.00,118.50 L355.00,116.00 L358.00,114.00 L362.00,112.00 L365.00,111.00 L373.80,111.00 L374.20,141.00 L374.50,158.00 L375.50,158.50 L376.80,155.00 L378.00,157.50 L379.20,155.00 L380.50,152.00 L382.00,149.20 L383.50,152.00 L385.00,157.00 L386.80,161.00 L387.40,164.50 L388.80,169.50 L390.80,177.40 L391.40,175.40 L392.10,177.40 L393.30,183.30 L394.70,200.50 L395.30,195.00 L396.00,177.40 L397.00,153.00 L398.20,136.20 L399.40,126.70 L400.50,120.00 L401.50,115.00 L403.00,111.00 L419.00,111.00 L421.00,117.00 L423.00,123.00 L425.10,129.80 L426.50,125.00 L428.00,117.00 L429.60,114.60 L432.00,115.50 L435.00,116.50 L438.50,118.20 L442.00,119.20 L445.00,120.20 L448.00,122.50 L450.60,125.30 L452.00,123.50 L453.60,118.40 L455.40,114.80 L458.00,112.80 L462.00,111.50 L466.00,111.00 L511.20,111.00" fill="none" stroke="#c42626" stroke-width="1.35" stroke-linejoin="round"/>
<path d="M267.40,111.00 L274.00,111.00 L275.00,107.50 L276.00,105.50 L277.00,107.50 L278.00,111.00 L287.00,111.00 L287.70,91.00 L288.50,61.00 L289.40,21.60 L290.20,51.00 L291.00,81.00 L291.80,101.00 L292.50,111.00 L418.50,111.00 L420.50,109.70 L422.50,109.30 L424.50,109.70 L426.50,111.00 L437.00,111.00 L440.00,109.70 L444.00,109.40 L449.00,109.80 L451.00,111.00 L511.20,111.00" fill="none" stroke="#2424cc" stroke-width="1.35" stroke-linejoin="round"/>
<path d="M267.40,111.00 L274.00,111.00 L275.00,114.50 L276.00,116.50 L277.00,114.50 L278.00,111.00 L287.00,111.00 L287.70,131.00 L288.50,161.00 L289.40,200.40 L290.20,171.00 L291.00,141.00 L291.80,121.00 L292.50,111.00 L418.50,111.00 L420.50,112.30 L422.50,112.70 L424.50,112.30 L426.50,111.00 L437.00,111.00 L440.00,112.30 L444.00,112.60 L449.00,112.20 L451.00,111.00 L511.20,111.00" fill="none" stroke="#2424cc" stroke-width="1.35" stroke-linejoin="round"/>
<path d="M267.40,111.00 L346.00,111.00 L346.50,81.00 L347.00,41.00 L347.80,22.00 L348.60,26.00 L349.50,41.00 L350.90,60.00 L352.00,73.00 L353.00,81.70 L355.20,88.30 L357.50,93.00 L359.60,97.00 L362.00,103.00 L364.00,106.70 L366.00,110.00 L368.00,111.00 L387.00,111.00 L388.70,102.40 L390.00,98.00 L391.00,96.50 L392.30,99.00 L393.50,98.00 L395.00,101.00 L397.00,106.00 L400.00,110.00 L402.00,111.00 L419.00,111.00 L422.00,105.00 L425.10,98.50 L427.00,105.00 L430.00,108.50 L440.00,108.50 L450.00,108.00 L456.00,110.00 L460.00,111.00 L511.20,111.00" fill="none" stroke="#94e85a" stroke-width="1.35" stroke-linejoin="round"/>
<path d="M267.40,111.00 L346.00,111.00 L346.50,141.00 L347.00,181.00 L347.80,200.00 L348.60,196.00 L349.50,181.00 L350.90,162.00 L352.00,149.00 L353.00,140.30 L355.20,133.70 L357.50,129.00 L359.60,125.00 L362.00,119.00 L364.00,115.30 L366.00,112.00 L368.00,111.00 L387.00,111.00 L388.70,119.60 L390.00,124.00 L391.00,125.50 L392.30,123.00 L393.50,124.00 L395.00,121.00 L397.00,116.00 L400.00,112.00 L402.00,111.00 L419.00,111.00 L422.00,117.00 L425.10,123.50 L427.00,117.00 L430.00,113.50 L440.00,113.50 L450.00,114.00 L456.00,112.00 L460.00,111.00 L511.20,111.00" fill="none" stroke="#94e85a" stroke-width="1.35" stroke-linejoin="round"/>
<path d="M267.40,111.00 L272.90,111.00 L273.30,101.00 L273.70,91.00 L274.20,84.00 L275.10,80.40 L276.30,79.80 L277.50,80.40 L278.40,84.00 L278.90,91.00 L279.30,101.00 L279.70,111.00 L290.50,111.00 L293.00,108.00 L295.50,105.00 L298.60,110.00 L299.50,111.00 L346.00,111.00 L348.00,109.00 L352.00,109.50 L357.00,109.70 L362.00,110.50 L366.00,111.00 L371.50,111.00 L372.50,103.00 L373.30,85.80 L374.50,83.40 L375.50,87.00 L376.80,94.00 L378.00,96.00 L379.50,93.50 L380.50,92.00 L381.50,96.00 L382.80,100.00 L384.00,101.00 L385.50,98.00 L387.00,94.00 L388.70,90.50 L389.90,85.80 L391.00,88.50 L392.30,91.70 L393.50,91.00 L394.60,95.00 L395.80,101.00 L398.00,106.00 L400.00,108.50 L403.00,111.00 L415.40,111.00 L416.20,110.00 L418.00,102.00 L419.80,93.00 L421.00,80.70 L421.60,70.00 L422.30,56.00 L422.80,42.70 L424.20,40.90 L425.50,45.00 L426.20,49.80 L427.00,61.60 L427.80,73.50 L428.20,80.00 L429.60,87.00 L430.60,93.00 L431.40,92.50 L432.20,87.00 L433.10,80.70 L434.10,80.00 L435.70,74.50 L437.70,67.50 L439.20,59.60 L440.60,54.70 L441.50,57.00 L442.60,58.70 L444.00,54.00 L445.20,49.80 L446.60,43.80 L448.00,37.90 L449.10,32.00 L449.70,21.00 L450.50,26.00 L451.50,30.00 L452.10,41.90 L452.70,55.70 L453.50,80.00 L454.50,96.70 L456.00,102.00 L458.00,105.60 L461.60,107.40 L464.00,107.20 L466.50,106.40 L469.00,107.60 L472.00,109.00 L476.00,109.80 L480.00,109.70 L483.00,109.00 L486.00,109.40 L490.00,109.80 L494.00,110.20 L500.00,110.70 L504.00,111.00 L511.20,111.00" fill="none" stroke="#c638d4" stroke-width="1.35" stroke-linejoin="round"/>
<path d="M267.40,111.00 L272.90,111.00 L273.30,121.00 L273.70,131.00 L274.20,138.00 L275.10,141.60 L276.30,142.20 L277.50,141.60 L278.40,138.00 L278.90,131.00 L279.30,121.00 L279.70,111.00 L290.50,111.00 L293.00,114.00 L295.50,117.00 L298.60,112.00 L299.50,111.00 L346.00,111.00 L348.00,113.00 L352.00,112.50 L357.00,112.30 L362.00,111.50 L366.00,111.00 L371.50,111.00 L372.50,119.00 L373.30,136.20 L374.50,138.60 L375.50,135.00 L376.80,128.00 L378.00,126.00 L379.50,128.50 L380.50,130.00 L381.50,126.00 L382.80,122.00 L384.00,121.00 L385.50,124.00 L387.00,128.00 L388.70,131.50 L389.90,136.20 L391.00,133.50 L392.30,130.30 L393.50,131.00 L394.60,127.00 L395.80,121.00 L398.00,116.00 L400.00,113.50 L403.00,111.00 L415.40,111.00 L416.20,112.00 L418.00,120.00 L419.80,129.00 L421.00,141.30 L421.60,152.00 L422.30,166.00 L422.80,179.30 L424.20,181.10 L425.50,177.00 L426.20,172.20 L427.00,160.40 L427.80,148.50 L428.20,142.00 L429.60,135.00 L430.60,129.00 L431.40,129.50 L432.20,135.00 L433.10,141.30 L434.10,142.00 L435.70,147.50 L437.70,154.50 L439.20,162.40 L440.60,167.30 L441.50,165.00 L442.60,163.30 L444.00,168.00 L445.20,172.20 L446.60,178.20 L448.00,184.10 L449.10,190.00 L449.70,201.00 L450.50,196.00 L451.50,192.00 L452.10,180.10 L452.70,166.30 L453.50,142.00 L454.50,125.30 L456.00,120.00 L458.00,116.40 L461.60,114.60 L464.00,114.80 L466.50,115.60 L469.00,114.40 L472.00,113.00 L476.00,112.20 L480.00,112.30 L483.00,113.00 L486.00,112.60 L490.00,112.20 L494.00,111.80 L500.00,111.30 L504.00,111.00 L511.20,111.00" fill="none" stroke="#c638d4" stroke-width="1.35" stroke-linejoin="round"/>
<rect x="267.1" y="12.9" width="244.79999999999995" height="196.7" fill="none" stroke="#000" stroke-width="1.4"/>
<line x1="296.50" y1="209.6" x2="296.50" y2="212.0" stroke="#111" stroke-width="1"/>
<line x1="332.40" y1="209.6" x2="332.40" y2="212.0" stroke="#111" stroke-width="1"/>
<line x1="368.30" y1="209.6" x2="368.30" y2="212.0" stroke="#111" stroke-width="1"/>
<line x1="404.20" y1="209.6" x2="404.20" y2="212.0" stroke="#111" stroke-width="1"/>
<line x1="440.10" y1="209.6" x2="440.10" y2="212.0" stroke="#111" stroke-width="1"/>
<line x1="476.00" y1="209.6" x2="476.00" y2="212.0" stroke="#111" stroke-width="1"/>
<line x1="511.90" y1="209.6" x2="511.90" y2="212.0" stroke="#111" stroke-width="1"/>
<line x1="278.55" y1="209.6" x2="278.55" y2="211.2" stroke="#111" stroke-width="1"/>
<line x1="314.45" y1="209.6" x2="314.45" y2="211.2" stroke="#111" stroke-width="1"/>
<line x1="350.35" y1="209.6" x2="350.35" y2="211.2" stroke="#111" stroke-width="1"/>
<line x1="386.25" y1="209.6" x2="386.25" y2="211.2" stroke="#111" stroke-width="1"/>
<line x1="422.15" y1="209.6" x2="422.15" y2="211.2" stroke="#111" stroke-width="1"/>
<line x1="458.05" y1="209.6" x2="458.05" y2="211.2" stroke="#111" stroke-width="1"/>
<line x1="493.95" y1="209.6" x2="493.95" y2="211.2" stroke="#111" stroke-width="1"/>
<g font-family="'Liberation Serif','Times New Roman',serif" font-weight="bold" class="b" font-size="13" text-anchor="middle" fill="#111">
<text transform="translate(296.50,224.7) scale(1,1.1)">-15</text>
<text transform="translate(332.40,224.7) scale(1,1.1)">-10</text>
<text transform="translate(368.30,224.7) scale(1,1.1)">-5</text>
<text transform="translate(404.20,224.7) scale(1,1.1)">0</text>
<text transform="translate(440.10,224.7) scale(1,1.1)">5</text>
<text transform="translate(476.00,224.7) scale(1,1.1)">10</text>
<text transform="translate(511.90,224.7) scale(1,1.1)">15</text>
</g>
<text transform="translate(389.3,247) scale(1,1.06)" font-family="'Liberation Serif','Times New Roman',serif" font-weight="bold" class="b" font-size="13.9" text-anchor="middle" fill="#111">E-E<tspan font-size="10" dy="3">f</tspan><tspan dy="-3"> (eV)</tspan></text>
<text transform="translate(258.3,114.3) rotate(-90)" font-family="'Liberation Serif','Times New Roman',serif" font-weight="bold" class="b" font-size="11" text-anchor="middle" fill="#111">PDOS (arb. units)</text>
<text transform="translate(402.1,8.4) scale(1,1.15)" font-family="'Liberation Serif','Times New Roman',serif" font-weight="bold" class="b" font-size="9.4" fill="#111">E<tspan font-size="7" dx="0.9" dy="2.6">f</tspan></text>
<text x="466" y="33.8" font-family="'Liberation Serif','Times New Roman',serif" font-weight="bold" class="b" font-size="11" fill="#111">spin up</text>
<text x="291.6" y="185.6" font-family="'Liberation Serif','Times New Roman',serif" font-weight="bold" class="b" font-size="12" fill="#111">spin down</text>
<line x1="294" y1="22.6" x2="315.3" y2="22.6" stroke="#1a1a1a" stroke-width="1.4"/>
<text x="317.4" y="25.9" font-family="'Liberation Sans',Arial,sans-serif" font-size="9" fill="#111">O-2s</text>
<line x1="294" y1="33.8" x2="315.3" y2="33.8" stroke="#c42626" stroke-width="1.4"/>
<text x="317.4" y="37.1" font-family="'Liberation Sans',Arial,sans-serif" font-size="9" fill="#111">O-2p</text>
<line x1="294" y1="45.0" x2="315.3" y2="45.0" stroke="#2424cc" stroke-width="1.4"/>
<text x="317.4" y="48.3" font-family="'Liberation Sans',Arial,sans-serif" font-size="9" fill="#111">Pb-5d</text>
<line x1="294" y1="56.2" x2="315.3" y2="56.2" stroke="#94e85a" stroke-width="1.4"/>
<text x="317.4" y="59.5" font-family="'Liberation Sans',Arial,sans-serif" font-size="9" fill="#111">Pb-6s</text>
<line x1="294" y1="67.4" x2="315.3" y2="67.4" stroke="#c638d4" stroke-width="1.4"/>
<text x="317.4" y="70.7" font-family="'Liberation Sans',Arial,sans-serif" font-size="9" fill="#111">Pb-6p</text>
</svg></body></html>
